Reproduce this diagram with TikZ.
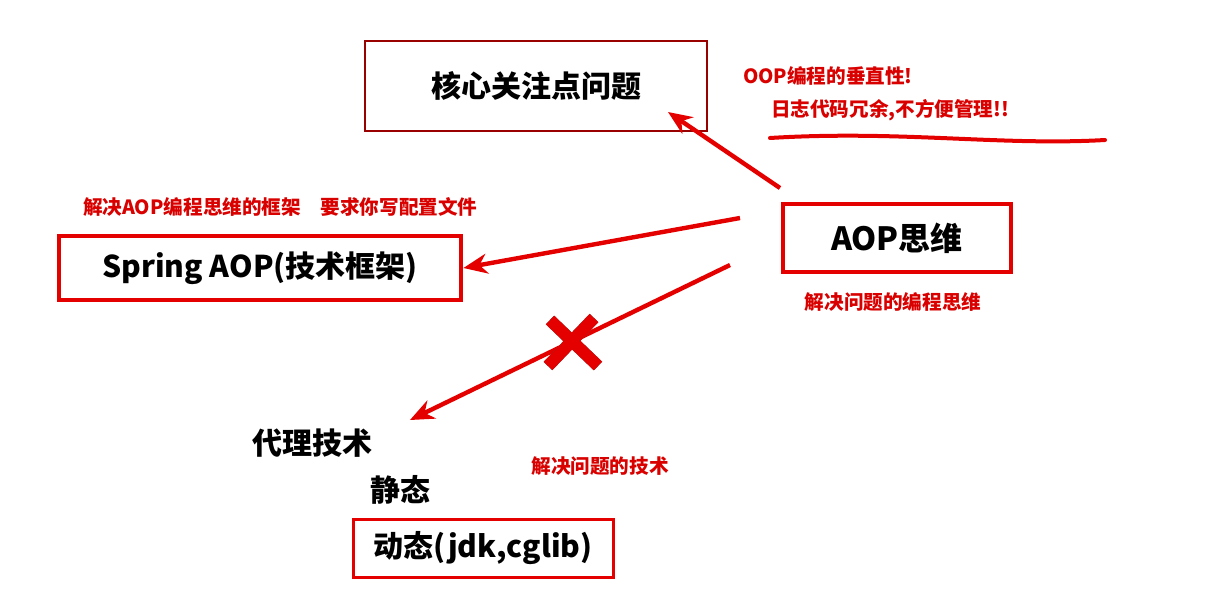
\documentclass[tikz,border=0pt]{standalone}
\usepackage{fontspec}
\setmainfont{Noto Sans CJK SC}
\usetikzlibrary{arrows.meta}
\begin{document}
\begin{tikzpicture}[x=0.5pt,y=-0.5pt,
  redtxt/.style={text=red!85!black,font=\fontsize{9.8}{11}\selectfont\bfseries},
  arr/.style={draw=red!90!black,line width=2.2pt,-{Stealth[length=12pt,width=10pt]}},
  thickbox/.style={draw=red!90!black,line width=2.4pt,minimum height=32pt}]
\useasboundingbox (0,0) rectangle (1211,600);
\node[draw=red!60!black,line width=1pt,minimum width=171pt,minimum height=45pt,font=\fontsize{15}{17}\selectfont\bfseries] (core) at (536,86) {核心关注点问题};
\node[redtxt,anchor=west] (t1) at (736,76) {OOP编程的垂直性!};
\node[redtxt,anchor=west] (t2) at (764,110) {日志代码冗余,不方便管理!!};
\coordinate (u1) at (770,138); \coordinate (u2) at (1105,140);
\draw[red!90!black,line width=2pt,line cap=round] (u1) .. controls (900,130) and (1000,146) .. (u2);
\node[thickbox,minimum width=114pt,minimum height=34pt,font=\fontsize{16}{18}\selectfont\bfseries] (aop) at (897,238) {AOP思维};
\node[redtxt] (t3) at (893,302) {解决问题的编程思维};
\node[redtxt,anchor=west] (t4) at (76,207) {解决AOP编程思维的框架\quad 要求你写配置文件};
\node[thickbox,minimum width=201pt,font=\fontsize{15}{17}\selectfont\bfseries] (spring) at (260,268) {Spring AOP(技术框架)};
\node[font=\fontsize{15}{17}\selectfont\bfseries] (proxy) at (312,443) {代理技术};
\node[font=\fontsize{15}{17}\selectfont\bfseries] (static) at (400,490) {静态};
\node[draw=red!90!black,line width=1.5pt,minimum width=130pt,minimum height=29pt,font=\fontsize{15}{17}\selectfont\bfseries] (dyn) at (483,548) {动态(jdk,cglib)};
\node[redtxt] (t5) at (600,466) {解决问题的技术};
\coordinate (s1) at (780,188); \coordinate (s2) at (740,218); \coordinate (s3) at (730,265);
\coordinate (ce) at (668,112);
\draw[arr] (s1) -- (ce);
\draw[arr] (s2) -- (spring.east);
\coordinate (pe) at (410,420);
\draw[arr] (s3) -- (pe);
\coordinate (x1) at (550,320); \coordinate (x2) at (598,366);
\coordinate (x3) at (594,318); \coordinate (x4) at (548,366);
\draw[black!70,line width=6pt,shift={(3,4)}] (x1) -- (x2) (x3) -- (x4);
\draw[red!90!black,line width=6pt] (x1) -- (x2) (x3) -- (x4);
\end{tikzpicture}
\end{document}
